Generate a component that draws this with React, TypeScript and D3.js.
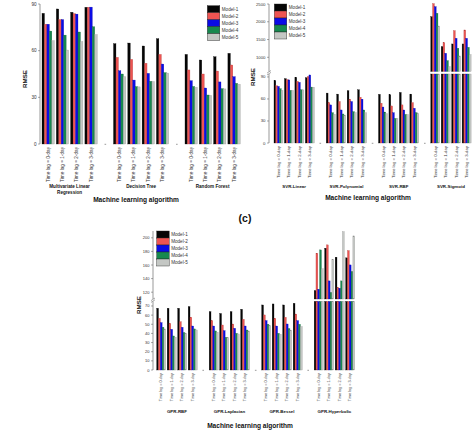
import React from "react";
import * as d3 from "d3";

const models = ["Model-1", "Model-2", "Model-3", "Model-4", "Model-5"];
const modelColors = ["#050505", "#ee5452", "#0b0be6", "#17884e", "#c4c7c4"];
const lagLabels = ["Time lag = 0-day", "Time lag = 1-day", "Time lag = 2-day", "Time lag = 3-day"];

// Panel (a)
const groupsA = ["Multivariate Linear|Regression", "Decision Tree", "Random Forest"];
const mlrRmse = [[84, 77, 77, 72.6, 66.4], [86.8, 80, 80, 70, 60.4], [84.7, 83.8, 83.5, 72, 65.8], [87.9, 87.9, 88, 75.4, 70.3]];
const dtRmse = [[64.5, 55.7, 47.1, 45, 43.3], [64.9, 54.4, 41.1, 36.9, 36.7], [63, 51.9, 45.4, 40.3, 40.1], [67.7, 57.6, 51.4, 45.9, 45.6]];
const rfRmse = [[57.6, 47.6, 40.7, 37, 36.4], [54, 45, 36, 31.5, 31.2], [56.1, 46.9, 39.9, 35.6, 35.4], [58.3, 50.8, 43.3, 39, 38.4]];
const ticksA = [0, 30, 60, 90];

// Panel (b)
const groupsB = ["SVR-Linear", "SVR-Polynomial", "SVR-RBF", "SVR-Sigmoid"];
const svrLinearRmse = [[85.2, 78, 77.1, 74, 71.4], [87.7, 86.3, 86, 71.8, 71.6], [89.5, 84, 82.6, 72.5, 72.3], [89, 90.4, 92.7, 76.2, 76]];
const svrPolyRmse = [[68, 55, 51.9, 41.3, 39], [66.6, 56.5, 45, 39.5, 38.1], [71.2, 59.7, 56.5, 42.7, 41.3], [72.5, 62.4, 59.7, 45, 41.3]];
const svrRbfRmse = [[66.3, 54.2, 49, 42.2, 40], [65.7, 50.5, 41.3, 33.5, 33.3], [68.9, 51.9, 45, 39, 38.8], [66.6, 55, 47.3, 41.3, 40.4]];
const svrSigmoidRmse = [[2144, 2510, 2425, 2237, 1881], [1300, 1413, 1113, 906, 737], [1375, 1750, 1534, 1253, 1038], [1375, 1769, 1534, 1281, 1075]];
const ticksBLow = [0, 30, 60, 90];
const ticksBHigh = [1000, 1500, 2000, 2500];

// Panel (c)
const groupsC = ["GPR-RBF", "GPR-Laplacian", "GPR-Bessel", "GPR-Hyperbolic"];
const gprRbfRmse = [[67.5, 56.5, 51.8, 46.7, 44.9], [67.5, 51, 44.5, 37.2, 35.8], [67.5, 52.8, 46.7, 40.8, 40.1], [69.3, 57.7, 48.1, 44.9, 43.8]];
const gprLapRmse = [[63.8, 54, 48.1, 42.7, 41.2], [61.8, 49.2, 43, 35.7, 35.4], [63.8, 50.3, 45.6, 40.1, 39.4], [66.4, 55.4, 48.1, 43.7, 42.7]];
const gprBesselRmse = [[71.1, 60.2, 54, 50, 48.5], [72.2, 56.5, 48.1, 40.1, 39], [71.1, 57.6, 50.3, 45.2, 43.7], [72.9, 61.2, 54, 50, 47.4]];
const gprHypRmse = [[122.4, 177.4, 124.4, 182.2, 154.5], [184.7, 189.6, 136.6, 119.5, 168.5], [171.5, 127, 125.9, 136.6, 209], [170.5, 181.2, 160.1, 150.3, 202.8]];
const ticksCLow = [0, 10, 20, 30, 40, 50, 60, 70];
const ticksCHigh = [120, 140, 160, 180, 200];

const FONT = "'Liberation Sans', Arial, sans-serif";

type PanelProps = {
  groups: string[];
  values: number[][][];
  xRange: [number, number];
  axisX: number;
  lowDomain: [number, number];
  lowRange: [number, number];
  lowTicks: number[];
  highDomain?: [number, number];
  highRange?: [number, number];
  highTicks?: number[];
  tickFont: number;
  lagFont: number;
  groupY: number;
  groupFont: number;
  titleX: number;
  titleY: number;
  rmseX: number;
  rmseY: number;
  legendX: number;
  legendY: number;
};

function Panel(p: PanelProps) {
  const slots: string[] = [];
  p.groups.forEach((g, gi) => {
    if (gi > 0) slots.push("gap" + gi);
    lagLabels.forEach((l, li) => slots.push(gi + "|" + li));
  });
  const x = d3.scaleBand<string>().domain(slots).range(p.xRange).paddingInner(0.14).paddingOuter(0);
  const xm = d3.scaleBand<string>().domain(models).range([0, x.bandwidth()]);
  const yLow = d3.scaleLinear().domain(p.lowDomain).range(p.lowRange);
  const yHigh = p.highDomain ? d3.scaleLinear().domain(p.highDomain).range(p.highRange!) : null;
  const lowMax = p.lowDomain[1];
  const baseY = yLow(0);

  const bars: React.ReactNode[] = [];
  p.values.forEach((grp, gi) =>
    grp.forEach((row, li) =>
      row.forEach((v, mi) => {
        const bx = (x(gi + "|" + li) as number) + (xm(models[mi]) as number);
        const w = xm.bandwidth();
        const col = modelColors[mi];
        const stroke = d3.color(col)!.darker(0.9).toString();
        if (!yHigh || v <= lowMax) {
          bars.push(<rect key={`${gi}-${li}-${mi}`} x={bx} y={yLow(v)} width={w} height={baseY - yLow(v)} fill={col} stroke={stroke} strokeWidth={0.3} />);
        } else {
          bars.push(<rect key={`${gi}-${li}-${mi}-l`} x={bx} y={yLow(lowMax)} width={w} height={baseY - yLow(lowMax)} fill={col} stroke={stroke} strokeWidth={0.3} />);
          const hb = yHigh(p.highDomain![0]);
          bars.push(<rect key={`${gi}-${li}-${mi}-h`} x={bx} y={yHigh(v)} width={w} height={hb - yHigh(v)} fill={col} stroke={stroke} strokeWidth={0.3} />);
        }
      })
    )
  );

  const axisColor = "#555";
  const labelColor = "#333";
  const ax = p.axisX;

  const ticks = (scale: d3.ScaleLinear<number, number>, vals: number[], k: string) =>
    vals.map((t) => (
      <g key={k + t}>
        <line x1={ax - 2} x2={ax} y1={scale(t)} y2={scale(t)} stroke={axisColor} strokeWidth={0.5} />
        <text x={ax - 3.5} y={scale(t)} fontSize={p.tickFont} fill={labelColor} textAnchor="end" dominantBaseline="central" fontFamily={FONT}>
          {t}
        </text>
      </g>
    ));

  const yBreakLow = yLow(lowMax);
  const yBreakHigh = yHigh ? yHigh(p.highDomain![0]) : 0;
  const yTop = yHigh ? yHigh(p.highDomain![1]) : yLow(lowMax);

  return (
    <g>
      {bars}
      {/* y axis */}
      {yHigh ? (
        <g>
          <line x1={ax} x2={ax} y1={baseY} y2={yBreakLow} stroke={axisColor} strokeWidth={0.6} />
          <line x1={ax} x2={ax} y1={yBreakHigh} y2={yTop} stroke={axisColor} strokeWidth={0.6} />
          <line x1={ax - 2} x2={ax + 2} y1={yBreakLow + 1} y2={yBreakLow - 1.6} stroke={axisColor} strokeWidth={0.5} />
          <line x1={ax - 2} x2={ax + 2} y1={yBreakHigh + 1.6} y2={yBreakHigh - 1} stroke={axisColor} strokeWidth={0.5} />
          {ticks(yHigh, p.highTicks!, "h")}
        </g>
      ) : (
        <line x1={ax} x2={ax} y1={baseY} y2={yTop} stroke={axisColor} strokeWidth={0.6} />
      )}
      {ticks(yLow, p.lowTicks, "l")}
      {/* gap ticks */}
      {slots.filter((s) => s.startsWith("gap")).map((s) => (
        <line key={s} x1={(x(s) as number) + x.bandwidth() / 2 - 0.8} x2={(x(s) as number) + x.bandwidth() / 2 + 0.8} y1={baseY + 0.3} y2={baseY + 0.3} stroke={axisColor} strokeWidth={0.6} />
      ))}
      {/* lag labels */}
      {p.groups.map((g, gi) =>
        lagLabels.map((l, li) => {
          const cx = (x(gi + "|" + li) as number) + x.bandwidth() / 2;
          return (
            <text key={`lab${gi}-${li}`} transform={`translate(${cx},${baseY + 3}) rotate(-90)`} textAnchor="end" dominantBaseline="central" fontSize={p.lagFont} fill={labelColor} fontFamily={FONT}>
              {l}
            </text>
          );
        })
      )}
      {/* group labels */}
      {p.groups.map((g, gi) => {
        const c0 = (x(gi + "|0") as number) + x.bandwidth() / 2;
        const c3 = (x(gi + "|3") as number) + x.bandwidth() / 2;
        const lines = g.split("|");
        return (
          <text key={"g" + gi} x={(c0 + c3) / 2} y={p.groupY} textAnchor="middle" fontSize={p.groupFont} fontWeight="bold" fill="#111" fontFamily={FONT}>
            {lines.map((ln, i) => (
              <tspan key={i} x={(c0 + c3) / 2} dy={i === 0 ? 0 : p.groupFont * 1.45}>
                {ln}
              </tspan>
            ))}
          </text>
        );
      })}
      <text x={p.titleX} y={p.titleY} textAnchor="middle" dominantBaseline="central" fontSize={6.6} fontWeight="bold" fill="#111" fontFamily={FONT}>
        Machine learning algorithm
      </text>
      <text transform={`translate(${p.rmseX},${p.rmseY}) rotate(-90)`} textAnchor="middle" dominantBaseline="central" fontSize={6.2} fontWeight="bold" fill="#111" fontFamily={FONT}>
        RMSE
      </text>
      {/* legend */}
      {models.map((m, i) => (
        <g key={"lg" + m}>
          <rect x={p.legendX} y={p.legendY + i * 7} width={12.5} height={7} fill={modelColors[i]} stroke="#222" strokeWidth={0.4} />
          <text x={p.legendX + 14.5} y={p.legendY + i * 7 + 3.6} fontSize={4.6} fill={labelColor} dominantBaseline="central" fontFamily={FONT}>
            {m}
          </text>
        </g>
      ))}
    </g>
  );
}

export default function App() {
  return (
    <svg width={474} height={435} style={{ position: "absolute", left: 0, top: 0, background: "#fff" }}>
      <rect x={0} y={0} width={474} height={435} fill="#fff" />
      <Panel
        groups={groupsA}
        values={[mlrRmse, dtRmse, rfRmse]}
        xRange={[42, 240.2]}
        axisX={40}
        lowDomain={[0, 90]}
        lowRange={[144, 4]}
        lowTicks={ticksA}
        tickFont={4.6}
        lagFont={4.7}
        groupY={187.5}
        groupFont={4.6}
        titleX={136}
        titleY={199}
        rmseX={24.5}
        rmseY={79}
        legendX={207.3}
        legendY={5.7}
      />
      <Panel
        groups={groupsB}
        values={[svrLinearRmse, svrPolyRmse, svrRbfRmse, svrSigmoidRmse]}
        xRange={[274, 471.1]}
        axisX={269}
        lowDomain={[0, 94]}
        lowRange={[143, 74]}
        lowTicks={ticksBLow}
        highDomain={[600, 2500]}
        highRange={[71.5, 4]}
        highTicks={ticksBHigh}
        tickFont={4.3}
        lagFont={4.3}
        groupY={187.5}
        groupFont={4.4}
        titleX={368}
        titleY={197}
        rmseX={252}
        rmseY={77}
        legendX={274.3}
        legendY={4}
      />
      <text x={245} y={218} textAnchor="middle" dominantBaseline="central" fontSize={10.5} fontWeight="bold" fill="#111" fontFamily={FONT}>
        (c)
      </text>
      <Panel
        groups={groupsC}
        values={[gprRbfRmse, gprLapRmse, gprBesselRmse, gprHypRmse]}
        xRange={[156.7, 354.7]}
        axisX={153}
        lowDomain={[0, 75]}
        lowRange={[370, 301.4]}
        lowTicks={ticksCLow}
        highDomain={[110, 210]}
        highRange={[299, 231]}
        highTicks={ticksCHigh}
        tickFont={4}
        lagFont={3.8}
        groupY={412.5}
        groupFont={4.4}
        titleX={250}
        titleY={425}
        rmseX={138}
        rmseY={305}
        legendX={156.7}
        legendY={231}
      />
    </svg>
  );
}
